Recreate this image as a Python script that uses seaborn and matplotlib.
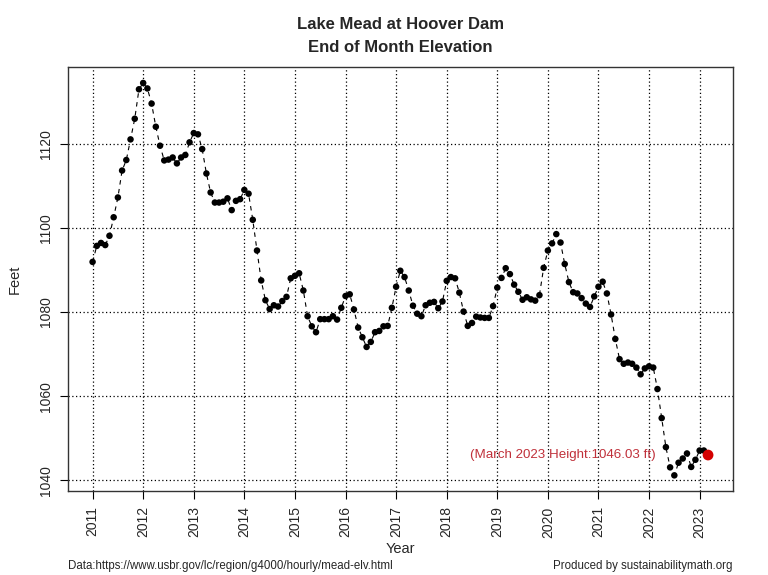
import numpy as np
import pandas as pd
import matplotlib
matplotlib.use("Agg")
import matplotlib.pyplot as plt
import seaborn as sns

#%% data: end of month elevation (feet)
elev_2011 = [1091.9, 1095.7, 1096.4, 1095.9, 1098.1, 1102.5, 1107.2, 1113.6, 1116.1, 1121.0, 1125.9, 1132.9]
elev_2012 = [1134.4, 1133.1, 1129.5, 1124.0, 1119.5, 1116.0, 1116.2, 1116.7, 1115.3, 1116.7, 1117.3, 1120.3]
elev_2013 = [1122.5, 1122.2, 1118.7, 1112.9, 1108.4, 1106.0, 1106.0, 1106.2, 1107.0, 1104.2, 1106.4, 1106.8]
elev_2014 = [1109.0, 1108.1, 1101.9, 1094.6, 1087.5, 1082.8, 1080.7, 1081.6, 1081.3, 1082.6, 1083.6, 1088.0]
elev_2015 = [1088.6, 1089.2, 1085.1, 1079.0, 1076.6, 1075.2, 1078.3, 1078.3, 1078.3, 1079.0, 1078.2, 1081.0]
elev_2016 = [1083.8, 1084.2, 1080.6, 1076.3, 1074.0, 1071.7, 1072.9, 1075.2, 1075.5, 1076.6, 1076.7, 1081.0]
elev_2017 = [1086.0, 1089.8, 1088.3, 1085.1, 1081.5, 1079.6, 1079.0, 1081.6, 1082.2, 1082.4, 1080.9, 1082.5]
elev_2018 = [1087.4, 1088.3, 1088.0, 1084.6, 1080.1, 1076.7, 1077.4, 1078.9, 1078.7, 1078.6, 1078.6, 1081.4]
elev_2019 = [1085.8, 1088.1, 1090.4, 1089.0, 1086.5, 1084.8, 1082.9, 1083.5, 1083.0, 1082.7, 1084.0, 1090.5]
elev_2020 = [1094.6, 1096.3, 1098.5, 1096.5, 1091.4, 1087.1, 1084.7, 1084.4, 1083.3, 1082.0, 1081.2, 1083.7]
elev_2021 = [1086.0, 1087.2, 1084.4, 1079.4, 1073.6, 1068.8, 1067.7, 1068.0, 1067.7, 1066.8, 1065.2, 1066.6]
elev_2022 = [1067.1, 1066.8, 1061.7, 1054.8, 1047.9, 1043.1, 1041.2, 1044.2, 1045.2, 1046.4, 1043.2, 1044.9]
elev_2023 = [1047.1, 1047.1, 1046.03]

start_year = 2011
year_ticks = list(range(2011, 2024))
feet_ticks = [1040, 1060, 1080, 1100, 1120]
last_label = "(March 2023 Height:1046.03 ft)"

#%% build table
elev = (elev_2011 + elev_2012 + elev_2013 + elev_2014 + elev_2015 + elev_2016 + elev_2017
        + elev_2018 + elev_2019 + elev_2020 + elev_2021 + elev_2022 + elev_2023)
df = pd.DataFrame({"year": start_year + np.arange(len(elev)) / 12, "feet": elev})
last = df.iloc[[-1]]

#%% plot
sns.set_style("white")
plt.rcParams["font.family"] = ["Liberation Sans", "DejaVu Sans"]

fig = plt.figure(figsize=(7.68, 5.75), dpi=100)
ax = fig.add_axes([0.0885, 0.146, 0.8655, 0.737])

for y in feet_ticks:
    ax.axhline(y, color="black", lw=0.9, ls=(0, (1, 2)), zorder=0)
for x in year_ticks:
    ax.axvline(x, color="black", lw=0.9, ls=(0, (1, 2)), zorder=0)

sns.lineplot(data=df, x="year", y="feet", ax=ax, color="black", lw=0.8,
             linestyle=(0, (4, 4)), zorder=2)
sns.scatterplot(data=df.iloc[:-1], x="year", y="feet", ax=ax, color="black",
                s=22, edgecolor="none", zorder=3)
sns.scatterplot(data=last, x="year", y="feet", ax=ax, color="#d40000",
                s=60, edgecolor="none", zorder=4)
ax.text(2022.14, last["feet"].iloc[0], last_label, color="#c0303a",
        fontsize=9.6, ha="right", va="center")

x0, x1 = df["year"].min(), df["year"].max()
y0, y1 = df["feet"].min(), df["feet"].max()
ax.set_xlim(x0 - 0.04 * (x1 - x0), x1 + 0.04 * (x1 - x0))
ax.set_ylim(y0 - 0.04 * (y1 - y0), y1 + 0.04 * (y1 - y0))

ax.set_xticks(year_ticks)
ax.set_xticklabels([str(t) for t in year_ticks], rotation=90, fontsize=10)
ax.set_yticks(feet_ticks)
ax.set_yticklabels([str(t) for t in feet_ticks], rotation=90, va="center", fontsize=10)
ax.tick_params(axis="both", direction="out", length=6, width=0.8, color="black",
               pad=5, bottom=True, left=True)

for sp in ax.spines.values():
    sp.set_color("#333333")
    sp.set_linewidth(1.0)

ax.set_xlabel("Year", fontsize=10.5, labelpad=3)
ax.set_ylabel("Feet", fontsize=10.5, labelpad=12)

fig.text(0.521, 0.958, "Lake Mead at Hoover Dam", ha="center", va="center",
         fontsize=12, fontweight="bold")
fig.text(0.521, 0.918, "End of Month Elevation", ha="center", va="center",
         fontsize=12, fontweight="bold")

fig.text(0.0885, 0.006, "Data:https://www.usbr.gov/lc/region/g4000/hourly/mead-elv.html",
         ha="left", va="bottom", fontsize=8.3)
fig.text(0.954, 0.006, "Produced by sustainabilitymath.org",
         ha="right", va="bottom", fontsize=8.3)

fig.savefig("out.png", dpi=100)
